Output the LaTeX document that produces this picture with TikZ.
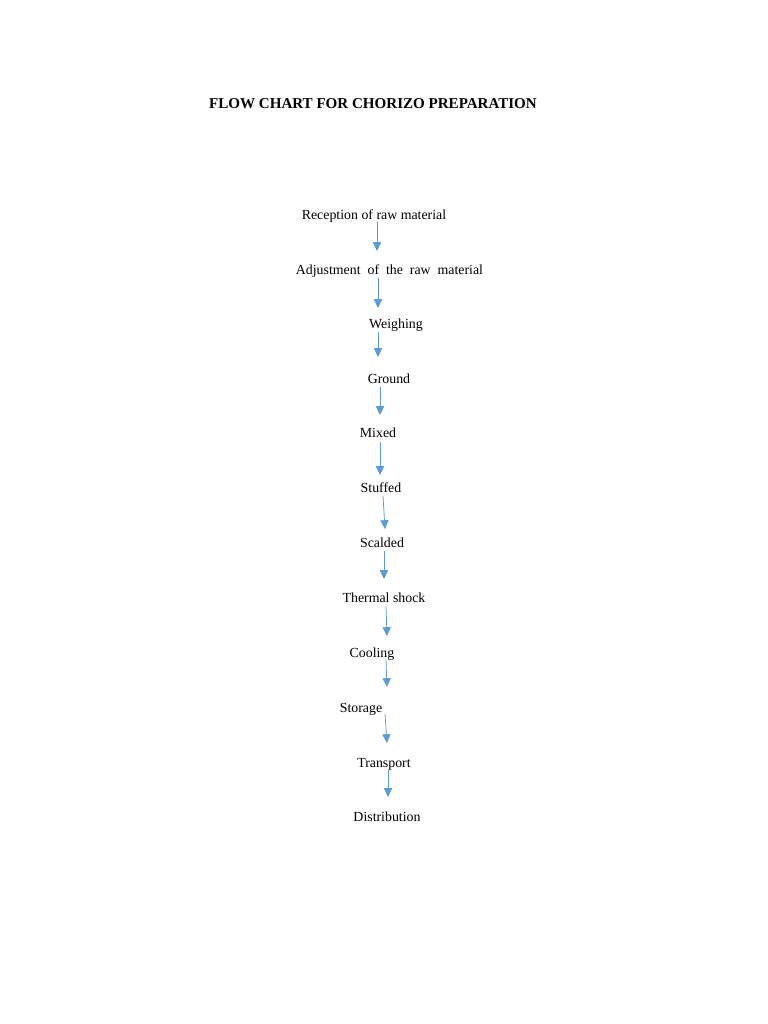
\documentclass[tikz,border=0pt]{standalone}
\usepackage{fontspec}
\setmainfont{Liberation Serif}
\usetikzlibrary{arrows.meta}
\definecolor{arrowblue}{HTML}{5B9BD5}
\tikzset{
  steptext/.style={anchor=base, inner sep=0pt, font=\fontsize{11.05}{13}\selectfont},
  titletext/.style={anchor=base, inner sep=0pt, font=\fontsize{12}{14}\selectfont\bfseries},
  flowarrow/.style={draw=arrowblue, line width=0.6pt, -{Triangle[width=6.5pt,length=7pt]}}
}
\begin{document}
\begin{tikzpicture}[x=0.797pt,y=-0.797pt]
\useasboundingbox[fill=white] (0,0) rectangle (768,1024);
\node[titletext] (title) at (373,108) {FLOW CHART FOR CHORIZO PREPARATION};
\node[steptext] (n1) at (374,219) {Reception of raw material};
\node[steptext] (n2) at (389.5,274) {Adjustment \ of \ the \ raw \ material};
\node[steptext] (n3) at (396,328) {Weighing};
\node[steptext] (n4) at (389,383) {Ground};
\node[steptext] (n5) at (378,437) {Mixed};
\node[steptext] (n6) at (381,492) {Stuffed};
\node[steptext] (n7) at (382,547) {Scalded};
\node[steptext] (n8) at (384,602) {Thermal shock};
\node[steptext] (n9) at (372,657) {Cooling};
\node[steptext] (n10) at (361,712) {Storage};
\node[steptext] (n11) at (384,767) {Transport};
\node[steptext] (n12) at (387,821) {Distribution};
% arrow endpoints
\coordinate (a1s) at (377,222); \coordinate (a1e) at (377,251);
\coordinate (a2s) at (378,278); \coordinate (a2e) at (378,308);
\coordinate (a3s) at (378,332); \coordinate (a3e) at (378,357);
\coordinate (a4s) at (380,387); \coordinate (a4e) at (380,415);
\coordinate (a5s) at (380,442); \coordinate (a5e) at (380,475);
\coordinate (a6s) at (383,496); \coordinate (a6e) at (385,529);
\coordinate (a7s) at (384,551); \coordinate (a7e) at (384,579);
\coordinate (a8s) at (386,606); \coordinate (a8e) at (387,636);
\coordinate (a9s) at (386,660); \coordinate (a9e) at (387,687);
\coordinate (a10s) at (385,714); \coordinate (a10e) at (387,743);
\coordinate (a11s) at (388,770); \coordinate (a11e) at (388,797);
\foreach \i in {1,...,11} {\draw[flowarrow] (a\i s) -- (a\i e);}
\end{tikzpicture}
\end{document}
